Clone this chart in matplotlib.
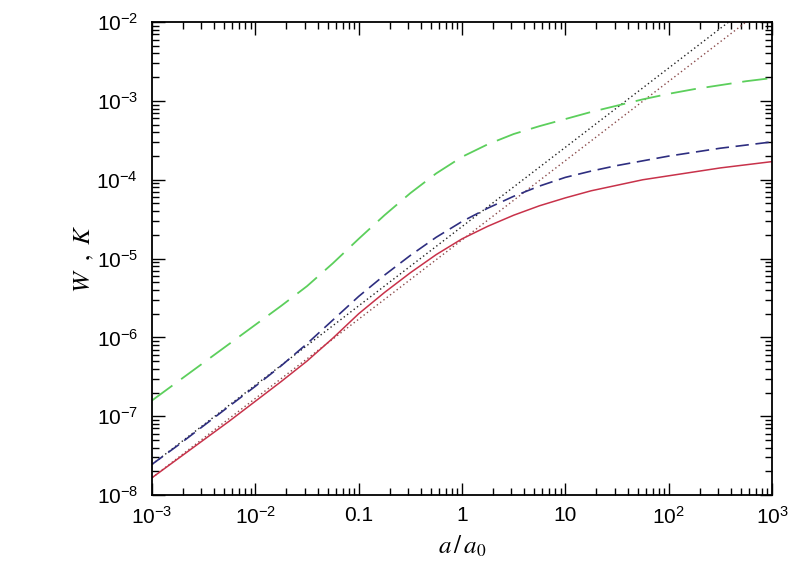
import matplotlib
matplotlib.use("Agg")
import numpy as np
import matplotlib.pyplot as plt
from matplotlib.ticker import FixedLocator, FixedFormatter, LogLocator, NullFormatter

# values, as log10 of a/a0 and of W, K
log_a = [-3.0, -2.75, -2.5, -2.25, -2.0, -1.75, -1.5, -1.25, -1.0, -0.75, -0.5,
         -0.25, 0.0, 0.25, 0.5, 0.75, 1.0, 1.25, 1.5, 1.75, 2.0, 2.25, 2.5, 2.75, 3.0]

log_red = [-7.78, -7.54, -7.30, -7.06, -6.81, -6.56, -6.30, -6.01, -5.70, -5.43,
           -5.18, -4.95, -4.75, -4.59, -4.45, -4.33, -4.23, -4.14, -4.07, -4.00,
           -3.95, -3.90, -3.85, -3.81, -3.77]
log_blue = [-7.61, -7.37, -7.12, -6.87, -6.62, -6.36, -6.08, -5.78, -5.48, -5.21,
            -4.96, -4.73, -4.53, -4.36, -4.21, -4.08, -3.97, -3.89, -3.82, -3.76,
            -3.70, -3.65, -3.60, -3.56, -3.52]
log_green = [-6.80, -6.56, -6.32, -6.08, -5.84, -5.60, -5.35, -5.06, -4.75, -4.45,
             -4.17, -3.92, -3.71, -3.55, -3.42, -3.32, -3.23, -3.14, -3.06, -2.98,
             -2.91, -2.85, -2.80, -2.75, -2.71]

# straight asymptotes (end points)
black_dot_x = [1e-3, 380.0]
black_dot_y = [2.45e-8, 1e-2]
red_dot_x = [1e-3, 560.0]
red_dot_y = [1.66e-8, 1e-2]

x_ticks = [1e-3, 1e-2, 0.1, 1, 10, 1e2, 1e3]
x_labels = [r"$\mathregular{10^{-3}}$", r"$\mathregular{10^{-2}}$", "0.1", "1", "10",
            r"$\mathregular{10^{2}}$", r"$\mathregular{10^{3}}$"]
y_ticks = [1e-8, 1e-7, 1e-6, 1e-5, 1e-4, 1e-3, 1e-2]
y_labels = [r"$\mathregular{10^{%d}}$" % e for e in range(-8, -1)]

plt.rcParams["font.family"] = ["Liberation Sans", "DejaVu Sans"]
plt.rcParams["mathtext.fontset"] = "stix"

a = np.power(10.0, log_a)

fig = plt.figure(figsize=(8, 5.75), dpi=100)
ax = fig.add_axes([0.19, 0.139, 0.775, 0.8226])

ax.plot(black_dot_x, black_dot_y, color="#222222", lw=1.0, ls=(0, (1, 2)))
ax.plot(red_dot_x, red_dot_y, color="#8a4a4a", lw=1.0, ls=(0, (1, 2)))
ax.plot(a, np.power(10.0, log_red), color="#c8324a", lw=1.1)
ax.plot(a, np.power(10.0, log_blue), color="#2e2e80", lw=1.2, ls=(0, (8, 4)))
ax.plot(a, np.power(10.0, log_green), color="#5ccf5c", lw=1.3, ls=(0, (14, 6)))

ax.set_xscale("log")
ax.set_yscale("log")
ax.set_xlim(1e-3, 1e3)
ax.set_ylim(1e-8, 1e-2)

ax.xaxis.set_major_locator(FixedLocator(x_ticks))
ax.xaxis.set_major_formatter(FixedFormatter(x_labels))
ax.yaxis.set_major_locator(FixedLocator(y_ticks))
ax.yaxis.set_major_formatter(FixedFormatter(y_labels))
ax.xaxis.set_minor_locator(LogLocator(base=10, subs=range(2, 10), numticks=20))
ax.yaxis.set_minor_locator(LogLocator(base=10, subs=range(2, 10), numticks=20))
ax.xaxis.set_minor_formatter(NullFormatter())
ax.yaxis.set_minor_formatter(NullFormatter())

ax.tick_params(which="both", direction="in", top=True, right=True, width=1.0,
               labelsize=15, colors="black")
ax.tick_params(which="major", length=9, pad=8)
ax.tick_params(which="minor", length=5)
ax.tick_params(axis="y", which="major", pad=10)
for s in ax.spines.values():
    s.set_linewidth(1.3)

ax.set_xlabel(r"$a\,/\,a_0$", fontsize=18, labelpad=4)
ax.set_ylabel(r"$W\ \ ,\ K$", fontsize=18, labelpad=0)

fig.savefig("out.png", dpi=100)
